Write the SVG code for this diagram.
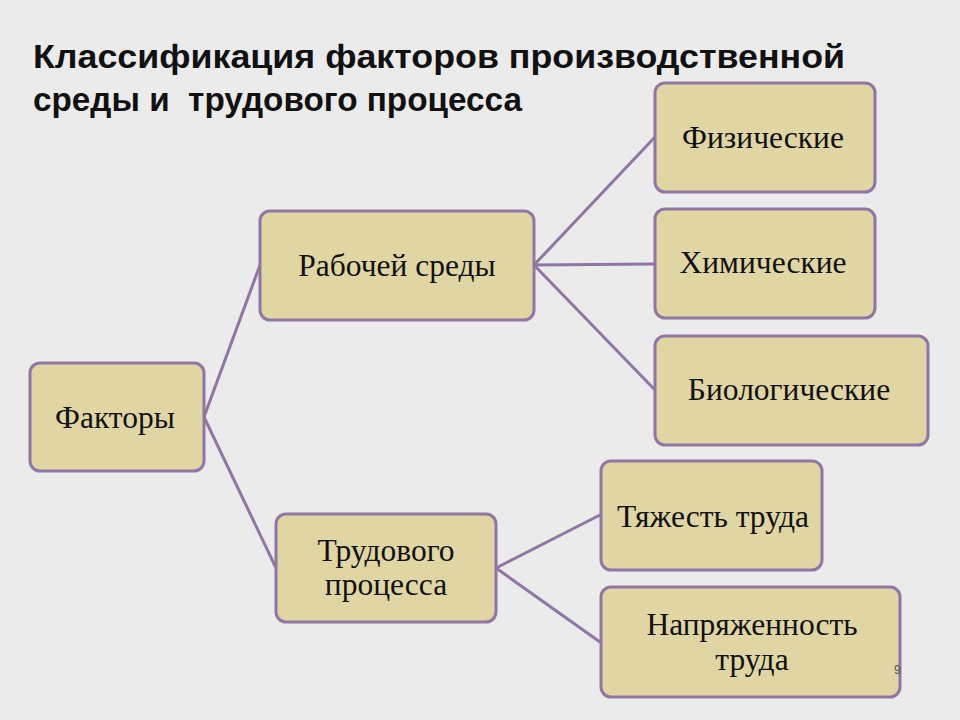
<svg xmlns="http://www.w3.org/2000/svg" width="960" height="720" viewBox="0 0 960 720">
<style>
.bg{fill:#ebebeb}
.box{fill:#e0d6a3;stroke:#8f76a3;stroke-width:3}
.lbl{font-family:"Liberation Serif","Times New Roman",serif;font-size:31.5px;fill:#111;text-anchor:middle}
.title{font-family:"Liberation Sans",Arial,sans-serif;font-size:33px;font-weight:bold;fill:#111;white-space:pre}
.con line{stroke:#8f76a3;stroke-width:3}
.pg{font-family:"Liberation Sans",Arial,sans-serif;font-size:12px;fill:#555}
</style>
<rect class="bg" x="0" y="0" width="960" height="720"/>
<text class="title" x="33" y="68" textLength="812" lengthAdjust="spacingAndGlyphs">Классификация факторов производственной</text>
<text class="title" x="33" y="111" xml:space="preserve" textLength="489" lengthAdjust="spacingAndGlyphs">среды и  трудового процесса</text>
<g class="con" id="connectors">
<line x1="204" y1="417" x2="260" y2="265"/>
<line x1="204" y1="417" x2="276" y2="568"/>
<line x1="534" y1="265" x2="655" y2="137"/>
<line x1="534" y1="265" x2="655" y2="264"/>
<line x1="534" y1="265" x2="655" y2="390"/>
<line x1="496" y1="568" x2="600" y2="515"/>
<line x1="496" y1="568" x2="600" y2="642"/>
</g>
<g id="factors"><rect class="box" x="30" y="363" width="174" height="108" rx="10"/><text class="lbl" x="115" y="428">Факторы</text></g>
<g id="work-env"><rect class="box" x="260" y="211" width="274" height="109" rx="10"/><text class="lbl" x="397" y="276">Рабочей среды</text></g>
<g id="labor-process"><rect class="box" x="276" y="514" width="220" height="108" rx="10"/><text class="lbl" x="386" y="561">Трудового</text><text class="lbl" x="386" y="595">процесса</text></g>
<g id="physical"><rect class="box" x="655" y="83" width="220" height="109" rx="10"/><text class="lbl" x="763" y="148">Физические</text></g>
<g id="chemical"><rect class="box" x="655" y="209" width="220" height="109" rx="10"/><text class="lbl" x="763" y="273">Химические</text></g>
<g id="biological"><rect class="box" x="655" y="336" width="273" height="109" rx="10"/><text class="lbl" x="789" y="400">Биологические</text></g>
<g id="severity"><rect class="box" x="601" y="461" width="221" height="109" rx="10"/><text class="lbl" x="713" y="527">Тяжесть труда</text></g>
<g id="intensity"><rect class="box" x="601" y="587" width="299" height="110" rx="10"/><text class="lbl" x="752" y="635">Напряженность</text><text class="lbl" x="752" y="670">труда</text></g>
<text class="pg" x="894" y="674">9</text>
</svg>
